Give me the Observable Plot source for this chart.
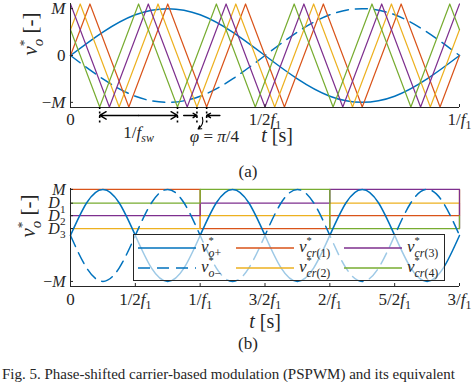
<!DOCTYPE html>
<html><head><meta charset="utf-8">
<script src="https://cdn.jsdelivr.net/npm/d3@7"></script>
<script src="https://cdn.jsdelivr.net/npm/@observablehq/plot@0.6"></script>
<style>
body{margin:0;background:#fff}
#wrap{position:relative;width:474px;height:382px;overflow:hidden;background:#fff;font-family:"Liberation Serif",serif;color:#262626}
#wrap svg text{font-family:"Liberation Serif",serif}
.pan{position:absolute;left:0}
.cap{position:absolute;font-family:"Liberation Serif",serif;white-space:nowrap;line-height:1}
</style></head><body><div id="wrap"></div>
<script>
// ---------- panel (a) data ----------
const xTicksA = [0, 0.5, 1];
const xLabelsA = ["0", "1/2f_1", "1/f_1"];
const yTicksA = [-1, 0, 1];
const yLabelsA = ["\u2212M", "0", "M"];

const redT    = [0, 0.05, 0.15, 0.25, 0.35, 0.45, 0.55, 0.65, 0.75, 0.85, 0.95, 1];
const redV    = [0, 1.1, -1.1, 1.1, -1.1, 1.1, -1.1, 1.1, -1.1, 1.1, -1.1, 0];
const yellowT = [0, 0.025, 0.125, 0.225, 0.325, 0.425, 0.525, 0.625, 0.725, 0.825, 0.925, 1];
const yellowV = [0.55, 1.1, -1.1, 1.1, -1.1, 1.1, -1.1, 1.1, -1.1, 1.1, -1.1, 0.55];
const purpleT = [0, 0.1, 0.2, 0.3, 0.4, 0.5, 0.6, 0.7, 0.8, 0.9, 1];
const purpleV = [1.1, -1.1, 1.1, -1.1, 1.1, -1.1, 1.1, -1.1, 1.1, -1.1, 1.1];
const greenT  = [0, 0.075, 0.175, 0.275, 0.375, 0.475, 0.575, 0.675, 0.775, 0.875, 0.975, 1];
const greenV  = [0.55, -1.1, 1.1, -1.1, 1.1, -1.1, 1.1, -1.1, 1.1, -1.1, 1.1, 0.55];

const sineTA = [0, 0.0833, 0.1667, 0.25, 0.3333, 0.4167, 0.5, 0.5833, 0.6667, 0.75, 0.8333, 0.9167, 1];
const vPlusA  = [0, 0.5, 0.87, 1, 0.87, 0.5, 0, -0.5, -0.87, -1, -0.87, -0.5, 0];
const vMinusA = [0, -0.5, -0.87, -1, -0.87, -0.5, 0, 0.5, 0.87, 1, 0.87, 0.5, 0];

// ---------- panel (b) data ----------
const xTicksB = [0, 0.5, 1, 1.5, 2, 2.5, 3];
const xLabelsB = ["0", "1/2f_1", "1/f_1", "3/2f_1", "2/f_1", "5/2f_1", "3/f_1"];
const D1 = 0.70, D2 = 0.43, D3 = 0.15;
const yTicksB = [-1, D3, D2, D1, 1];
const yLabelsB = ["\u2212M", "D_3", "D_2", "D_1", "M"];
const periodT = [0, 1, 2, 3];
const redB    = [1, D3, D2, D1];
const yellowB = [D3, D2, D1, 1];
const purpleB = [D2, D1, 1, D3];
const greenB  = [D1, 1, D3, D2];
const sineTB = [0,0.125,0.25,0.375,0.5,0.625,0.75,0.875,1,1.125,1.25,1.375,1.5,1.625,1.75,1.875,2,2.125,2.25,2.375,2.5,2.625,2.75,2.875,3];
const vPlusB  = [0,0.71,1,0.71,0,-0.71,-1,-0.71,0,0.71,1,0.71,0,-0.71,-1,-0.71,0,0.71,1,0.71,0,-0.71,-1,-0.71,0];
const vMinusB = [0,-0.71,-1,-0.71,0,0.71,1,0.71,0,-0.71,-1,-0.71,0,0.71,1,0.71,0,-0.71,-1,-0.71,0,0.71,1,0.71,0];

const legendLabels = ["v^*_{o+}", "v^*_{o\u2212}", "v^*_{cr(1)}", "v^*_{cr(2)}", "v^*_{cr(3)}", "v^*_{cr(4)}"];

// ---------- styles ----------
const BLUE = "#0072BD", RED = "#D95319", YEL = "#EDB120", PUR = "#7E2F8E", GRN = "#77AC30";
const AX = "#262626";
const FONT = "Liberation Serif";
const DASH = "12,7";

const wrap = document.getElementById("wrap");
function place(node, top) {
  const d = document.createElement("div");
  d.className = "pan"; d.style.top = top + "px";
  d.appendChild(node); wrap.appendChild(d); return node;
}
const lab = (ticks, labels) => d => labels[ticks.indexOf(d)] ?? "";

// ---------- panel (a) ----------
const yMinA = -1.11;
const plotA = Plot.plot({
  width: 474, height: 150, marginLeft: 70, marginRight: 15, marginTop: 3, marginBottom: 43,
  x: {domain: [0, 1]}, y: {domain: [yMinA, 1.11]},
  style: {fontFamily: FONT, fontSize: "16px", color: AX, background: "transparent", overflow: "visible"},
  marks: [
    Plot.line(sineTA, {x: sineTA, y: vPlusA, curve: "natural", stroke: BLUE, strokeWidth: 1.5}),
    Plot.line(sineTA, {x: sineTA, y: vMinusA, curve: "natural", stroke: BLUE, strokeWidth: 1.5, strokeDasharray: DASH}),
    Plot.line(redT, {x: redT, y: redV, stroke: RED, strokeWidth: 1.2}),
    Plot.line(yellowT, {x: yellowT, y: yellowV, stroke: YEL, strokeWidth: 1.2}),
    Plot.line(purpleT, {x: purpleT, y: purpleV, stroke: PUR, strokeWidth: 1.2}),
    Plot.line(greenT, {x: greenT, y: greenV, stroke: GRN, strokeWidth: 1.2}),
    Plot.ruleX([0], {stroke: AX}),
    Plot.ruleY([yMinA], {stroke: AX}),
    Plot.axisX({ticks: xTicksA, tickSize: 3, dy: -3, tickFormat: () => "", label: null}),
    Plot.axisX({ticks: xTicksA, tickSize: 0, tickPadding: 5, fontSize: 17, tickFormat: lab(xTicksA, xLabelsA), label: null}),
    Plot.axisY({ticks: yTicksA, tickSize: 3, dx: 3, tickFormat: () => "", label: null}),
    Plot.axisY({ticks: yTicksA, tickSize: 0, tickPadding: 5, fontSize: 17, tickFormat: lab(yTicksA, yLabelsA), label: null}),
    // annotations: 1/f_sw span (green valleys) and phase shift (yellow vs red valley)
    Plot.ruleX([greenT[1], greenT[3], yellowT[4], redT[4]], {y1: yMinA, y2: -1.45, stroke: "black", strokeWidth: 1.6, strokeDasharray: "2,2.5"}),
    Plot.arrow([greenT[1], greenT[3]], {x1: (greenT[1] + greenT[3]) / 2, x2: d => d, y1: -1.28, y2: -1.28, stroke: "black", strokeWidth: 1.4, headLength: 8}),
    Plot.arrow([yellowT[4]], {x1: d => d - 0.034, x2: d => d, y1: -1.28, y2: -1.28, stroke: "black", strokeWidth: 1.4, headLength: 8}),
    Plot.arrow([redT[4]], {x1: d => d + 0.034, x2: d => d, y1: -1.28, y2: -1.28, stroke: "black", strokeWidth: 1.4, headLength: 8}),
    Plot.arrow([redT[4]], {x1: d => d - 0.011, x2: d => d - 0.022, y1: -1.32, y2: -1.57, bend: 35, stroke: "black", strokeWidth: 1.1, headLength: 5}),
    Plot.text(["1/f_{sw}"], {x: (greenT[1] + greenT[3]) / 2, y: -1.64, fontSize: 17, fill: AX}),
    Plot.text(["\u03c6 = \u03c0/4"], {x: 0.37, y: -1.74, fontSize: 17, fill: AX}),
    Plot.text(["t [s]"], {frameAnchor: "bottom", dx: 12, dy: 34, fontSize: 20, fill: AX}),
    Plot.text(["v^*_o [-]"], {frameAnchor: "left", rotate: -90, dx: -40, fontSize: 21, fill: AX})
  ]
});
place(plotA, 0);

// ---------- panel (b) ----------
const yMinB = -1.11;
const plotB = Plot.plot({
  width: 474, height: 160, marginLeft: 70, marginRight: 15, marginTop: 8, marginBottom: 54,
  x: {domain: [0, 3]}, y: {domain: [yMinB, 1.02]},
  style: {fontFamily: FONT, fontSize: "16px", color: AX, background: "transparent", overflow: "visible"},
  marks: [
    Plot.line(periodT, {x: periodT, y: redB, curve: "step-after", stroke: RED, strokeWidth: 1.3}),
    Plot.line(periodT, {x: periodT, y: yellowB, curve: "step-after", stroke: YEL, strokeWidth: 1.3}),
    Plot.line(periodT, {x: periodT, y: purpleB, curve: "step-after", stroke: PUR, strokeWidth: 1.3}),
    Plot.line(periodT, {x: periodT, y: greenB, curve: "step-after", stroke: GRN, strokeWidth: 1.3}),
    Plot.line(sineTB, {x: sineTB, y: vPlusB, curve: "natural", stroke: BLUE, strokeWidth: 1.5}),
    Plot.line(sineTB, {x: sineTB, y: vMinusB, curve: "natural", stroke: BLUE, strokeWidth: 1.5, strokeDasharray: DASH}),
    Plot.ruleX([0], {stroke: AX}),
    Plot.ruleY([yMinB], {stroke: AX}),
    Plot.axisX({ticks: xTicksB, tickSize: 3, dy: -3, tickFormat: () => "", label: null}),
    Plot.axisX({ticks: xTicksB, tickSize: 0, tickPadding: 6, fontSize: 17, tickFormat: lab(xTicksB, xLabelsB), label: null}),
    Plot.axisY({ticks: yTicksB, tickSize: 3, dx: 3, tickFormat: () => "", label: null}),
    Plot.axisY({ticks: yTicksB, tickSize: 0, tickPadding: 5, fontSize: 16, tickFormat: lab(yTicksB, yLabelsB), label: null}),
    Plot.text(["t [s]"], {frameAnchor: "bottom", dx: 0, dy: 41, fontSize: 20, fill: AX}),
    Plot.text(["v^*_o [-]"], {frameAnchor: "left", rotate: -90, dx: -42, fontSize: 21, fill: AX})
  ]
});
place(plotB, 180);

// ---------- legend overlay for (b) ----------
const leg = d3.create("svg").attr("width", 474).attr("height", 382)
  .style("position", "absolute").style("left", "0px").style("top", "0px")
  .style("font-family", FONT).style("font-size", "17px");
leg.append("rect").attr("x", 133.5).attr("y", 234.5).attr("width", 311).attr("height", 46)
  .attr("fill", "white").attr("fill-opacity", 0.62).attr("stroke", AX).attr("stroke-width", 1);
const legSpec = [
  {c: BLUE, d: null}, {c: BLUE, d: DASH}, {c: RED, d: null}, {c: YEL, d: null}, {c: PUR, d: null}, {c: GRN, d: null}
];
const colX = [138, 236, 344], rowY = [248, 268];
legSpec.forEach((s, i) => {
  const col = Math.floor(i / 2), row = i % 2;
  const x0 = colX[col], y0 = rowY[row];
  leg.append("line").attr("x1", x0).attr("x2", x0 + 58).attr("y1", y0).attr("y2", y0)
    .attr("stroke", s.c).attr("stroke-width", 1.5).attr("stroke-dasharray", s.d);
  leg.append("text").attr("x", x0 + 63).attr("y", y0 + 4).attr("fill", AX).text(legendLabels[i]);
});
wrap.appendChild(leg.node());

// ---------- captions ----------
function cap(txt, x, top, size, anchorCenter) {
  const d = document.createElement("div");
  d.className = "cap"; d.textContent = txt;
  d.style.top = top + "px"; d.style.left = x + "px"; d.style.fontSize = size + "px";
  if (anchorCenter) d.style.transform = "translateX(-50%)";
  wrap.appendChild(d);
}
cap("(a)", 248, 163, 17, true);
cap("(b)", 248, 335, 17, true);
cap("Fig. 5.  Phase-shifted carrier-based modulation (PSPWM) and its equivalent", 2, 367, 15, false);

// ---------- math-style text (italic letters, sub/superscripts) ----------
const NS = "http://www.w3.org/2000/svg";
function mathify(el) {
  const s = el.textContent;
  if (!/[_^A-Za-z\u03c6\u03c0]/.test(s)) return;
  const fs = parseFloat(getComputedStyle(el).fontSize) || 16;
  const segs = []; let i = 0;
  while (i < s.length) {
    const c = s[i];
    if (c === "_" || c === "^") {
      let t, j = i + 1;
      if (s[j] === "{") { const k = s.indexOf("}", j); t = s.slice(j + 1, k); i = k + 1; }
      else { t = s[j]; i = j + 1; }
      segs.push({t, m: c === "_" ? "sub" : "sup"});
    } else {
      let j = i; while (j < s.length && s[j] !== "_" && s[j] !== "^") j++;
      segs.push({t: s.slice(i, j), m: "n"}); i = j;
    }
  }
  el.textContent = "";
  let cur = 0, depth = 0, prevSup = null;
  for (const seg of segs) {
    const target = seg.m === "sub" ? 0.27 * fs : seg.m === "sup" ? -0.45 * fs : 0;
    const size = seg.m === "n" ? fs : seg.m === "sup" ? 0.62 * fs : 0.7 * fs;
    const runs = [];
    for (const ch of seg.t) {
      if (ch === "[") depth++;
      const it = depth === 0 && /[A-Za-z\u03c6\u03c0]/.test(ch);
      if (ch === "]") depth--;
      if (runs.length && runs[runs.length - 1].it === it) runs[runs.length - 1].t += ch;
      else runs.push({t: ch, it});
    }
    let first = true; const nodes = [];
    for (const r of runs) {
      const ts = document.createElementNS(NS, "tspan");
      ts.textContent = r.t;
      ts.setAttribute("font-size", size);
      ts.setAttribute("font-style", r.it ? "italic" : "normal");
      if (first) {
        if (target !== cur) ts.setAttribute("dy", target - cur);
        if (seg.m === "sub" && prevSup) {
          let w = 0; prevSup.forEach(n => w += n.getComputedTextLength());
          ts.setAttribute("dx", -w);
        }
        first = false;
      }
      el.appendChild(ts); nodes.push(ts);
    }
    cur = target;
    prevSup = seg.m === "sup" ? nodes : null;
  }
}
wrap.querySelectorAll("svg text").forEach(mathify);
</script></body></html>
